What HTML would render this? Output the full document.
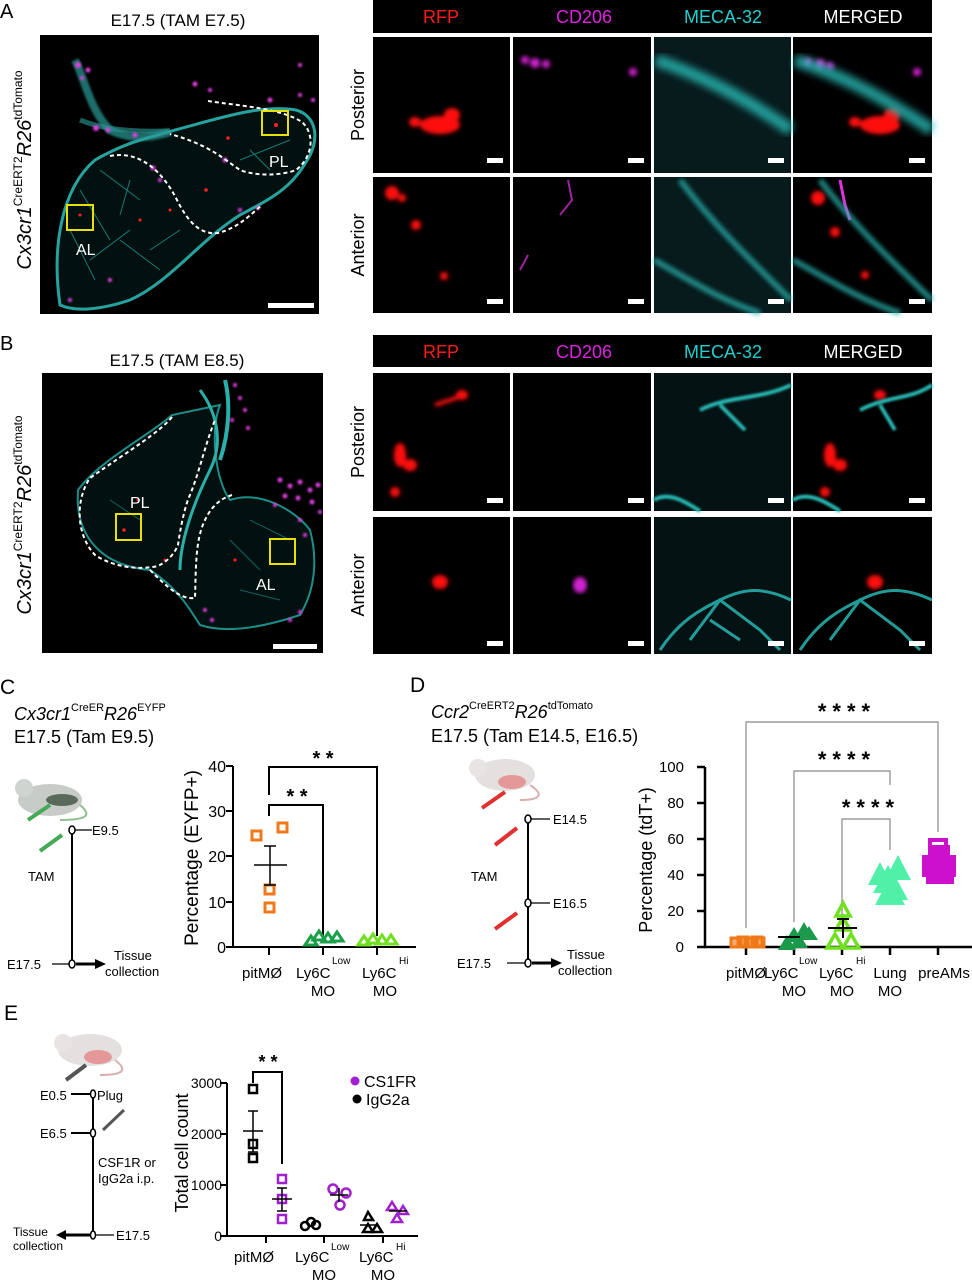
<!DOCTYPE html>
<html><head><meta charset="utf-8"><style>
html,body{margin:0;padding:0;background:#fff}
svg{display:block}
text{font-family:"Liberation Sans",sans-serif}
</style></head><body>
<svg width="972" height="1280" viewBox="0 0 972 1280" xmlns="http://www.w3.org/2000/svg">
<defs>
<filter id="b2"><feGaussianBlur stdDeviation="2"/></filter>
<filter id="b1"><feGaussianBlur stdDeviation="1"/></filter>
<filter id="b4"><feGaussianBlur stdDeviation="4"/></filter>
</defs>

<!-- ============ PANEL A ============ -->
<text x="0" y="18" font-size="20">A</text>
<text x="178" y="26" font-size="17" text-anchor="middle">E17.5 (TAM E7.5)</text>
<text transform="translate(31,170) rotate(-90)" font-size="20" text-anchor="middle" font-style="italic">Cx3cr1<tspan font-size="12" dy="-9" font-style="normal">CreERT2</tspan><tspan dy="9">R26</tspan><tspan font-size="12" dy="-9" font-style="normal">tdTomato</tspan></text>
<rect x="40" y="35" width="279" height="279" fill="#000"/>
<g>
<path d="M60,305 C52,250 60,190 95,160 C130,140 150,138 175,130 C220,118 262,104 296,110 C318,116 320,142 306,162 C290,190 268,200 240,215 C200,240 170,282 130,300 C100,310 75,312 60,305 Z" fill="#031312" stroke="#2bb5b0" stroke-width="3" opacity="0.9"/>
<path d="M75,60 C85,80 90,110 110,130 C130,140 150,138 170,132" fill="none" stroke="#2a9c98" stroke-width="8" opacity="0.7" filter="url(#b1)"/>
<path d="M80,120 C100,128 120,132 170,131" fill="none" stroke="#2a9c98" stroke-width="5" opacity="0.6"/>
<g fill="#e040e0" filter="url(#b1)">
<circle cx="78" cy="65" r="3"/><circle cx="88" cy="70" r="2.5"/><circle cx="82" cy="78" r="2"/><circle cx="96" cy="128" r="3"/><circle cx="108" cy="130" r="2.5"/><circle cx="135" cy="135" r="2.5"/><circle cx="195" cy="84" r="2.5"/><circle cx="210" cy="90" r="2"/><circle cx="270" cy="100" r="2.5"/><circle cx="300" cy="95" r="2"/><circle cx="313" cy="100" r="2"/><circle cx="153" cy="168" r="2.5"/><circle cx="160" cy="180" r="2"/><circle cx="240" cy="210" r="2"/><circle cx="258" cy="208" r="2"/><circle cx="225" cy="160" r="2.5"/><circle cx="300" cy="65" r="2"/><circle cx="110" cy="280" r="2"/><circle cx="70" cy="300" r="2"/>
</g>
<g fill="#ff2020"><circle cx="276" cy="125" r="2"/><circle cx="228" cy="138" r="1.8"/><circle cx="206" cy="190" r="1.8"/><circle cx="140" cy="220" r="1.5"/><circle cx="80" cy="215" r="1.5"/><circle cx="170" cy="210" r="1.5"/></g>
<g stroke="#20a8a0" stroke-width="1" fill="none" opacity="0.7">
<path d="M80,190 L110,240 M100,170 L140,200 M120,240 L160,270 M90,260 L130,230 M250,150 L270,170 M240,160 L290,140 M150,250 L180,230 M70,230 L95,280 M130,180 L120,215"/>
</g>
<path d="M110,156 C140,150 163,172 177,200 C188,222 200,235 218,233 C238,228 250,215 262,205" fill="none" stroke="#fff" stroke-width="2" stroke-dasharray="4,3"/>
<path d="M208,101 C240,106 280,108 302,122 C316,135 312,158 296,170 C280,176 255,176 240,170 C225,160 210,145 170,134" fill="none" stroke="#fff" stroke-width="2" stroke-dasharray="4,3"/>
<rect x="262" y="111" width="26" height="24" fill="none" stroke="#e8e000" stroke-width="2"/>
<rect x="67" y="205" width="26" height="25" fill="none" stroke="#e8e000" stroke-width="2"/>
<text x="269" y="167" font-size="16" fill="#fff">PL</text>
<text x="76" y="255" font-size="16" fill="#fff">AL</text>
<rect x="268" y="303" width="46" height="5" fill="#fff"/>
</g>

<!-- header A -->
<rect x="373" y="0" width="559" height="33" fill="#000"/>
<text x="441" y="23" font-size="18" fill="#ff1a1a" text-anchor="middle">RFP</text>
<text x="584" y="23" font-size="18" fill="#e020e0" text-anchor="middle">CD206</text>
<text x="723" y="23" font-size="18" fill="#20d0d0" text-anchor="middle">MECA-32</text>
<text x="863" y="23" font-size="18" fill="#fff" text-anchor="middle">MERGED</text>
<text transform="translate(364,105) rotate(-90)" font-size="18" text-anchor="middle">Posterior</text>
<text transform="translate(364,245) rotate(-90)" font-size="18" text-anchor="middle">Anterior</text>
<g fill="#000">
<rect x="373" y="37" width="137" height="136"/><rect x="513" y="37" width="138" height="136"/><rect x="654" y="37" width="137" height="136"/><rect x="793" y="37" width="139" height="136"/>
<rect x="373" y="177" width="137" height="136"/><rect x="513" y="177" width="138" height="136"/><rect x="654" y="177" width="137" height="136"/><rect x="793" y="177" width="139" height="136"/>
</g>
<g fill="#071a1c"><rect x="654" y="37" width="137" height="136"/><rect x="654" y="177" width="137" height="136"/></g>
<g filter="url(#b2)" fill="#ff1010">
<ellipse cx="440" cy="125" rx="20" ry="9"/><ellipse cx="452" cy="115" rx="8" ry="7"/><ellipse cx="415" cy="122" rx="6" ry="5"/>
<ellipse cx="880" cy="125" rx="20" ry="9"/><ellipse cx="892" cy="115" rx="8" ry="7"/><ellipse cx="855" cy="122" rx="6" ry="5"/>
</g>
<g filter="url(#b2)" fill="#d020d0">
<circle cx="525" cy="60" r="4"/><circle cx="535" cy="63" r="5"/><circle cx="546" cy="64" r="4"/><circle cx="633" cy="72" r="4"/>
<circle cx="808" cy="62" r="4"/><circle cx="820" cy="64" r="5"/><circle cx="830" cy="66" r="4"/><circle cx="917" cy="72" r="4"/>
</g>
<path d="M656,60 C700,75 740,95 791,130" stroke="#2cc0bc" stroke-width="12" fill="none" filter="url(#b4)" opacity="0.8"/>
<path d="M795,60 C840,75 880,95 932,130" stroke="#2cc0bc" stroke-width="12" fill="none" filter="url(#b4)" opacity="0.8"/>
<g filter="url(#b2)" fill="#ff1010">
<circle cx="392" cy="193" r="7"/><circle cx="402" cy="198" r="4"/><circle cx="416" cy="225" r="5"/><circle cx="444" cy="276" r="4"/>
<circle cx="818" cy="198" r="7"/><circle cx="835" cy="232" r="5"/><circle cx="865" cy="275" r="4"/>
</g>
<path d="M568,180 L572,200 L560,215 M520,270 L528,255" stroke="#a020a0" stroke-width="2" fill="none"/>
<path d="M840,180 L845,205 L850,220" stroke="#e030e0" stroke-width="3" fill="none"/>
<path d="M680,180 C710,220 740,250 791,300 M654,260 C690,280 720,300 760,313" stroke="#2cb8b4" stroke-width="6" fill="none" filter="url(#b2)" opacity="0.7"/>
<path d="M820,180 C850,220 880,250 932,300 M793,260 C830,280 860,300 900,313" stroke="#2cb8b4" stroke-width="6" fill="none" filter="url(#b2)" opacity="0.7"/>
<g fill="#fff">
<rect x="487" y="158" width="16" height="5"/><rect x="628" y="158" width="16" height="5"/><rect x="768" y="158" width="16" height="5"/><rect x="909" y="158" width="16" height="5"/>
<rect x="487" y="299" width="16" height="5"/><rect x="628" y="299" width="16" height="5"/><rect x="768" y="299" width="16" height="5"/><rect x="909" y="299" width="16" height="5"/>
</g>

<!-- ============ PANEL B ============ -->
<text x="0" y="350" font-size="20">B</text>
<text x="177" y="366" font-size="17" text-anchor="middle">E17.5 (TAM E8.5)</text>
<text transform="translate(31,515) rotate(-90)" font-size="20" text-anchor="middle" font-style="italic">Cx3cr1<tspan font-size="12" dy="-9" font-style="normal">CreERT2</tspan><tspan dy="9">R26</tspan><tspan font-size="12" dy="-9" font-style="normal">tdTomato</tspan></text>
<rect x="42" y="373" width="281" height="280" fill="#000"/>
<g>
<path d="M172,415 C150,435 100,460 78,490 C75,530 95,565 150,570 C180,590 190,610 200,625 C230,635 270,625 300,615 C315,590 318,560 310,530 C295,510 260,490 230,500 C215,480 210,430 220,405 Z" fill="#031211" stroke="#209e98" stroke-width="2" opacity="0.9"/>
<path d="M200,390 C215,410 225,440 210,470 C195,500 180,540 180,570" stroke="#2ab0aa" stroke-width="3" fill="none"/>
<path d="M225,380 C230,400 230,430 220,460" stroke="#2ab0aa" stroke-width="4" fill="none"/>
<g stroke="#178a84" stroke-width="1" fill="none" opacity="0.7"><path d="M230,540 L260,570 M240,590 L280,600 M250,520 L290,540 M110,500 L140,520"/></g>
<g fill="#e040e0" filter="url(#b1)">
<circle cx="235" cy="385" r="2"/><circle cx="240" cy="398" r="2"/><circle cx="245" cy="410" r="2"/><circle cx="232" cy="420" r="2"/><circle cx="248" cy="428" r="2"/>
<circle cx="280" cy="480" r="2.5"/><circle cx="290" cy="486" r="2.5"/><circle cx="300" cy="482" r="2.5"/><circle cx="310" cy="490" r="2.5"/><circle cx="318" cy="485" r="2.5"/><circle cx="285" cy="496" r="2.5"/><circle cx="298" cy="498" r="2.5"/><circle cx="312" cy="502" r="2.5"/><circle cx="320" cy="512" r="2"/><circle cx="275" cy="505" r="2"/><circle cx="300" cy="520" r="2"/><circle cx="305" cy="535" r="2"/>
<circle cx="205" cy="610" r="2"/><circle cx="212" cy="620" r="2"/><circle cx="290" cy="620" r="2"/><circle cx="300" cy="612" r="2"/>
</g>
<g fill="#ff2020"><circle cx="124" cy="530" r="1.8"/><circle cx="138" cy="500" r="1.5"/><circle cx="165" cy="560" r="1.5"/><circle cx="235" cy="560" r="1.5"/></g>
<path d="M172,417 C160,432 130,450 90,478 C75,500 76,535 95,555 C115,568 140,570 158,566 C170,560 175,552 178,545 C180,530 185,505 190,495 C200,470 205,445 215,420" fill="none" stroke="#fff" stroke-width="2" stroke-dasharray="4,3"/>
<path d="M150,570 C165,585 180,600 195,598 C196,570 195,540 205,520 C212,505 222,498 232,495" fill="none" stroke="#fff" stroke-width="2" stroke-dasharray="4,3"/>
<rect x="116" y="514" width="25" height="26" fill="none" stroke="#e8e000" stroke-width="2"/>
<rect x="270" y="539" width="25" height="25" fill="none" stroke="#e8e000" stroke-width="2"/>
<text x="130" y="508" font-size="16" fill="#fff">PL</text>
<text x="256" y="590" font-size="16" fill="#fff">AL</text>
<rect x="273" y="644" width="44" height="5" fill="#fff"/>
</g>
<rect x="373" y="335" width="559" height="32" fill="#000"/>
<text x="441" y="358" font-size="18" fill="#ff1a1a" text-anchor="middle">RFP</text>
<text x="584" y="358" font-size="18" fill="#e020e0" text-anchor="middle">CD206</text>
<text x="723" y="358" font-size="18" fill="#20d0d0" text-anchor="middle">MECA-32</text>
<text x="863" y="358" font-size="18" fill="#fff" text-anchor="middle">MERGED</text>
<text transform="translate(364,442) rotate(-90)" font-size="18" text-anchor="middle">Posterior</text>
<text transform="translate(364,585) rotate(-90)" font-size="18" text-anchor="middle">Anterior</text>
<g fill="#000">
<rect x="373" y="373" width="137" height="138"/><rect x="513" y="373" width="138" height="138"/><rect x="654" y="373" width="137" height="138"/><rect x="793" y="373" width="139" height="138"/>
<rect x="373" y="517" width="137" height="137"/><rect x="513" y="517" width="138" height="137"/><rect x="654" y="517" width="137" height="137"/><rect x="793" y="517" width="139" height="137"/>
</g>
<g fill="#051214"><rect x="654" y="373" width="137" height="138"/><rect x="654" y="517" width="137" height="137"/></g>
<g filter="url(#b2)" fill="#ff1010">
<ellipse cx="400" cy="455" rx="6" ry="12"/><ellipse cx="410" cy="465" rx="7" ry="6"/><ellipse cx="462" cy="395" rx="6" ry="5"/><path d="M435,405 L465,395" stroke="#ff1010" stroke-width="4"/><circle cx="395" cy="492" r="5"/>
<ellipse cx="830" cy="455" rx="6" ry="12"/><ellipse cx="840" cy="465" rx="7" ry="6"/><ellipse cx="880" cy="395" rx="6" ry="5"/><circle cx="825" cy="492" r="5"/>
<ellipse cx="440" cy="582" rx="8" ry="7"/><ellipse cx="875" cy="582" rx="8" ry="7"/>
</g>
<g filter="url(#b2)" fill="#d020d0"><ellipse cx="580" cy="585" rx="7" ry="8"/></g>
<path d="M700,410 C730,395 760,400 791,385 M720,405 L745,430 M654,500 C670,490 690,505 700,511" stroke="#28b6b0" stroke-width="4" fill="none" filter="url(#b1)"/>
<path d="M860,410 C890,395 910,400 932,385 M880,405 L895,430 M793,500 C810,490 830,505 840,511" stroke="#28b6b0" stroke-width="4" fill="none" filter="url(#b1)"/>
<path d="M660,650 C680,620 700,610 720,600 C740,590 760,585 791,600 M690,640 L720,600 L760,630 L780,650 M710,620 L740,640" stroke="#28b6b0" stroke-width="3" fill="none" opacity="0.85"/>
<path d="M800,650 C820,620 840,610 860,600 C880,590 900,585 932,600 M830,640 L860,600 L900,630 L920,650" stroke="#28b6b0" stroke-width="3" fill="none" opacity="0.85"/>
<g fill="#fff">
<rect x="487" y="498" width="16" height="5"/><rect x="628" y="498" width="16" height="5"/><rect x="768" y="498" width="16" height="5"/><rect x="909" y="498" width="16" height="5"/>
<rect x="487" y="641" width="16" height="5"/><rect x="628" y="641" width="16" height="5"/><rect x="768" y="641" width="16" height="5"/><rect x="909" y="641" width="16" height="5"/>
</g>

<!-- ============ PANEL C ============ -->
<text x="0" y="694" font-size="21">C</text>
<text x="14" y="720" font-size="18" font-style="italic">Cx3cr1<tspan font-size="11" dy="-9" font-style="normal">CreER</tspan><tspan dy="9">R26</tspan><tspan font-size="11" dy="-9" font-style="normal">EYFP</tspan></text>
<text x="14" y="743" font-size="18">E17.5 (Tam E9.5)</text>
<ellipse cx="50" cy="800" rx="32" ry="16" fill="#c8ccc8"/><circle cx="24" cy="788" r="9" fill="#d0d4d0"/>
<ellipse cx="62" cy="800" rx="16" ry="6" fill="#5a6a5a"/>
<path d="M80,805 C92,815 88,820 60,820" stroke="#8ec08e" stroke-width="2" fill="none"/>
<path d="M28,820 L50,805" stroke="#44aa55" stroke-width="4"/>
<path d="M40,851 L62,835" stroke="#44aa55" stroke-width="4"/>
<text x="28" y="881" font-size="13">TAM</text>
<line x1="72" y1="830" x2="72" y2="964" stroke="#000" stroke-width="2"/>
<ellipse cx="72" cy="830" rx="3" ry="4" fill="#fff" stroke="#000" stroke-width="1.5"/>
<ellipse cx="72" cy="964" rx="3" ry="4" fill="#fff" stroke="#000" stroke-width="1.5"/>
<line x1="75" y1="830" x2="92" y2="830" stroke="#000" stroke-width="1.2"/>
<text x="92" y="835" font-size="13">E9.5</text>
<line x1="52" y1="964" x2="69" y2="964" stroke="#000" stroke-width="1.2"/>
<text x="7" y="969" font-size="13">E17.5</text>
<line x1="76" y1="964" x2="97" y2="964" stroke="#000" stroke-width="3"/><path d="M95,959 L106,964 L95,969 Z"/>
<text x="114" y="960" font-size="13">Tissue</text><text x="105" y="976" font-size="13">collection</text>
<text transform="translate(198,858) rotate(-90)" font-size="19" text-anchor="middle">Percentage (EYFP+)</text>
<g stroke="#000" stroke-width="2" fill="none">
<line x1="233" y1="766" x2="233" y2="948"/><line x1="232" y1="947" x2="416" y2="947"/>
<line x1="226" y1="766" x2="233" y2="766"/><line x1="226" y1="811" x2="233" y2="811"/><line x1="226" y1="856" x2="233" y2="856"/><line x1="226" y1="902" x2="233" y2="902"/><line x1="226" y1="947" x2="233" y2="947"/>
<line x1="269" y1="947" x2="269" y2="955"/><line x1="323" y1="947" x2="323" y2="955"/><line x1="377" y1="947" x2="377" y2="955"/>
<path d="M269,795 V767 H377 V936"/><path d="M269,816 V805 H323 V940"/>
</g>
<g font-size="16" text-anchor="end"><text x="226" y="772">40</text><text x="226" y="817">30</text><text x="226" y="862">20</text><text x="226" y="908">10</text><text x="226" y="953">0</text></g>
<text x="323" y="765" font-size="20" font-weight="bold" text-anchor="middle">* *</text>
<text x="297" y="803" font-size="20" font-weight="bold" text-anchor="middle">* *</text>
<g fill="none" stroke="#f07818" stroke-width="3">
<rect x="252" y="831" width="9" height="9"/><rect x="278" y="823" width="9" height="9"/><rect x="265" y="885" width="9" height="9"/><rect x="265" y="903" width="9" height="9"/>
</g>
<g stroke="#000" stroke-width="1.5"><line x1="254" y1="865" x2="287" y2="865"/><line x1="270" y1="846" x2="270" y2="885"/><line x1="264" y1="846" x2="276" y2="846"/><line x1="264" y1="885" x2="276" y2="885"/></g>
<g fill="none" stroke="#18a048" stroke-width="3"><path d="M305,945 L311,936 L317,945 Z"/><path d="M313,940 L319,931 L325,940 Z"/><path d="M322,942 L328,933 L334,942 Z"/><path d="M331,941 L337,932 L343,941 Z"/></g>
<g fill="none" stroke="#70e020" stroke-width="3"><path d="M358,945 L364,936 L370,945 Z"/><path d="M367,943 L373,934 L379,943 Z"/><path d="M376,944 L382,935 L388,944 Z"/><path d="M385,944 L391,935 L397,944 Z"/></g>
<g font-size="15"><text x="262" y="978" text-anchor="middle">pitMØ</text>
<text x="296" y="978">Ly6C</text><text x="332" y="964" font-size="10">Low</text><text x="323" y="996" text-anchor="middle">MO</text>
<text x="362" y="978">Ly6C</text><text x="399" y="964" font-size="10">Hi</text><text x="385" y="996" text-anchor="middle">MO</text></g>

<!-- ============ PANEL D ============ -->
<text x="410" y="692" font-size="21">D</text>
<text x="431" y="718" font-size="18" font-style="italic">Ccr2<tspan font-size="11" dy="-9" font-style="normal">CreERT2</tspan><tspan dy="9">R26</tspan><tspan font-size="11" dy="-9" font-style="normal">tdTomato</tspan></text>
<text x="431" y="742" font-size="18">E17.5 (Tam E14.5, E16.5)</text>
<ellipse cx="505" cy="775" rx="30" ry="16" fill="#e4e0e0"/><circle cx="478" cy="768" r="9" fill="#e8e4e4"/>
<ellipse cx="512" cy="782" rx="14" ry="7" fill="#e49898"/>
<path d="M530,785 C545,795 540,800 520,800" stroke="#d8b0b0" stroke-width="2" fill="none"/>
<path d="M482,808 L505,792" stroke="#e03030" stroke-width="4"/>
<path d="M495,845 L517,828" stroke="#e03030" stroke-width="4"/>
<path d="M495,929 L517,913" stroke="#e03030" stroke-width="4"/>
<text x="471" y="881" font-size="13">TAM</text>
<line x1="528" y1="819" x2="528" y2="963" stroke="#000" stroke-width="2"/>
<ellipse cx="528" cy="819" rx="3" ry="4" fill="#fff" stroke="#000" stroke-width="1.5"/><ellipse cx="528" cy="903" rx="3" ry="4" fill="#fff" stroke="#000" stroke-width="1.5"/><ellipse cx="528" cy="963" rx="3" ry="4" fill="#fff" stroke="#000" stroke-width="1.5"/>
<line x1="531" y1="819" x2="550" y2="819" stroke="#000" stroke-width="1.2"/><text x="553" y="824" font-size="13">E14.5</text>
<line x1="531" y1="903" x2="550" y2="903" stroke="#000" stroke-width="1.2"/><text x="553" y="908" font-size="13">E16.5</text>
<line x1="507" y1="963" x2="525" y2="963" stroke="#000" stroke-width="1.2"/><text x="457" y="968" font-size="13">E17.5</text>
<line x1="532" y1="963" x2="553" y2="963" stroke="#000" stroke-width="3"/><path d="M551,958 L562,963 L551,968 Z"/>
<text x="567" y="959" font-size="13">Tissue</text><text x="558" y="975" font-size="13">collection</text>
<text transform="translate(652,860) rotate(-90)" font-size="18" text-anchor="middle">Percentage (tdT+)</text>
<g stroke="#000" stroke-width="2.5" fill="none">
<line x1="705" y1="767" x2="705" y2="948"/><line x1="704" y1="947" x2="972" y2="947"/>
<line x1="697" y1="767" x2="705" y2="767"/><line x1="697" y1="803" x2="705" y2="803"/><line x1="697" y1="839" x2="705" y2="839"/><line x1="697" y1="875" x2="705" y2="875"/><line x1="697" y1="911" x2="705" y2="911"/><line x1="697" y1="947" x2="705" y2="947"/>
<line x1="746" y1="947" x2="746" y2="955"/><line x1="794" y1="947" x2="794" y2="955"/><line x1="842" y1="947" x2="842" y2="955"/><line x1="890" y1="947" x2="890" y2="955"/><line x1="938" y1="947" x2="938" y2="955"/>
</g>
<g font-size="15" text-anchor="end"><text x="684" y="772">100</text><text x="684" y="808">80</text><text x="684" y="844">60</text><text x="684" y="880">40</text><text x="684" y="916">20</text><text x="684" y="952">0</text></g>
<g stroke="#888" stroke-width="1.2" fill="none">
<path d="M746,928 V722 H938 V832"/><path d="M794,922 V771 H890 V785"/><path d="M842,925 V819 H890 V850"/>
</g>
<g font-size="22" text-anchor="middle" font-weight="bold"><text x="847" y="719" letter-spacing="6">****</text><text x="847" y="767" letter-spacing="6">****</text><text x="871" y="815" letter-spacing="6">****</text></g>
<g fill="none" stroke="#f07818" stroke-width="3"><rect x="731" y="938" width="10" height="9"/><rect x="738" y="937" width="10" height="9"/><rect x="745" y="938" width="10" height="9"/><rect x="752" y="937" width="10" height="9"/><rect x="757" y="938" width="7" height="9"/></g>
<rect x="731" y="937" width="33" height="11" fill="#f07818" opacity="0.6"/>
<g fill="#1a9a4a"><path d="M778,950 L787,935 L796,950 Z"/><path d="M785,942 L794,927 L803,942 Z"/><path d="M795,938 L804,922 L813,938 Z"/><path d="M790,948 L799,933 L808,948 Z"/><path d="M800,940 L809,926 L818,940 Z"/></g>
<g stroke="#000" stroke-width="2"><line x1="778" y1="937" x2="800" y2="937"/></g>
<g fill="none" stroke="#70e020" stroke-width="3.5"><path d="M827,948 L835,934 L843,948 Z"/><path d="M836,916 L843,903 L850,916 Z"/><path d="M836,930 L843,917 L850,930 Z"/><path d="M843,948 L851,934 L859,948 Z"/></g>
<g stroke="#000" stroke-width="2"><line x1="828" y1="928" x2="857" y2="928"/><line x1="843" y1="919" x2="843" y2="938"/><line x1="837" y1="919" x2="849" y2="919"/></g>
<g fill="#50f0a8"><path d="M873,893 L888,865 L903,893 Z"/><path d="M875,905 L890,877 L905,905 Z"/><path d="M885,880 L898,855 L911,880 Z"/><path d="M868,885 L880,862 L892,885 Z"/><path d="M878,900 L893,872 L908,900 Z"/></g>
<g fill="#cc10cc"><rect x="922" y="855" width="34" height="22"/><rect x="928" y="845" width="22" height="12"/><rect x="926" y="872" width="28" height="12"/><rect x="930" y="840" width="16" height="10" fill="none" stroke="#cc10cc" stroke-width="4"/></g>
<g font-size="15"><text x="746" y="978" text-anchor="middle">pitMØ</text>
<text x="764" y="978">Ly6C</text><text x="799" y="964" font-size="10">Low</text><text x="794" y="996" text-anchor="middle">MO</text>
<text x="819" y="978">Ly6C</text><text x="856" y="964" font-size="10">Hi</text><text x="842" y="996" text-anchor="middle">MO</text>
<text x="890" y="978" text-anchor="middle">Lung</text><text x="890" y="996" text-anchor="middle">MO</text>
<text x="944" y="978" text-anchor="middle">preAMs</text></g>

<!-- ============ PANEL E ============ -->
<text x="4" y="1020" font-size="21">E</text>
<ellipse cx="90" cy="1050" rx="32" ry="16" fill="#e4e0e0"/><circle cx="63" cy="1043" r="9" fill="#e8e4e4"/>
<ellipse cx="98" cy="1057" rx="14" ry="7" fill="#e49898"/>
<path d="M115,1060 C128,1070 124,1075 100,1075" stroke="#d8b0b0" stroke-width="2" fill="none"/>
<path d="M66,1080 L86,1065" stroke="#555" stroke-width="4"/>
<path d="M103,1130 L124,1110" stroke="#555" stroke-width="3"/>
<line x1="93" y1="1094" x2="93" y2="1236" stroke="#000" stroke-width="2"/>
<ellipse cx="93" cy="1094" rx="2.5" ry="4" fill="#fff" stroke="#000" stroke-width="1.5"/><ellipse cx="93" cy="1133" rx="2.5" ry="4" fill="#fff" stroke="#000" stroke-width="1.5"/><ellipse cx="93" cy="1235" rx="2.5" ry="4" fill="#fff" stroke="#000" stroke-width="1.5"/>
<line x1="71" y1="1094" x2="90" y2="1094" stroke="#000" stroke-width="2"/><text x="40" y="1100" font-size="13">E0.5</text><text x="97" y="1100" font-size="13">Plug</text>
<line x1="71" y1="1133" x2="90" y2="1133" stroke="#000" stroke-width="2"/><text x="40" y="1138" font-size="13">E6.5</text>
<text x="98" y="1167" font-size="13">CSF1R or</text><text x="98" y="1183" font-size="13">IgG2a i.p.</text>
<line x1="96" y1="1235" x2="114" y2="1235" stroke="#000" stroke-width="1.2"/><text x="116" y="1240" font-size="13">E17.5</text>
<line x1="64" y1="1235" x2="90" y2="1235" stroke="#000" stroke-width="3"/><path d="M66,1230 L56,1235 L66,1240 Z"/>
<text x="13" y="1236" font-size="12">Tissue</text><text x="13" y="1250" font-size="12">collection</text>
<text transform="translate(188,1153) rotate(-90)" font-size="18" text-anchor="middle">Total cell count</text>
<g stroke="#000" stroke-width="2" fill="none">
<line x1="227" y1="1083" x2="227" y2="1237"/><line x1="226" y1="1236" x2="418" y2="1236"/>
<line x1="220" y1="1083" x2="227" y2="1083"/><line x1="220" y1="1134" x2="227" y2="1134"/><line x1="220" y1="1185" x2="227" y2="1185"/><line x1="220" y1="1236" x2="227" y2="1236"/>
<line x1="266" y1="1236" x2="266" y2="1243"/><line x1="324" y1="1236" x2="324" y2="1243"/><line x1="383" y1="1236" x2="383" y2="1243"/>
<path d="M253,1083 V1072 H282 V1164"/>
</g>
<g font-size="14" text-anchor="end"><text x="222" y="1088">3000</text><text x="222" y="1139">2000</text><text x="222" y="1190">1000</text><text x="222" y="1241">0</text></g>
<text x="268" y="1068" font-size="18" font-weight="bold" text-anchor="middle">* *</text>
<g fill="none" stroke="#000" stroke-width="2.5"><rect x="249" y="1085" width="8" height="8"/><rect x="249" y="1140" width="8" height="8"/><rect x="249" y="1154" width="8" height="8"/></g>
<g stroke="#000" stroke-width="1.5"><line x1="243" y1="1131" x2="263" y2="1131"/><line x1="253" y1="1111" x2="253" y2="1152"/><line x1="248" y1="1111" x2="258" y2="1111"/><line x1="248" y1="1152" x2="258" y2="1152"/></g>
<g fill="none" stroke="#a020d0" stroke-width="2.5"><rect x="278" y="1175" width="8" height="8"/><rect x="278" y="1195" width="8" height="8"/><rect x="278" y="1215" width="8" height="8"/></g>
<g stroke="#000" stroke-width="1.5"><line x1="272" y1="1199" x2="292" y2="1199"/><line x1="282" y1="1188" x2="282" y2="1211"/><line x1="277" y1="1188" x2="287" y2="1188"/><line x1="277" y1="1211" x2="287" y2="1211"/></g>
<g fill="none" stroke="#000" stroke-width="2.5"><circle cx="305" cy="1226" r="4"/><circle cx="311" cy="1222" r="4"/><circle cx="316" cy="1225" r="4"/></g>
<g fill="none" stroke="#a020d0" stroke-width="2.5"><circle cx="333" cy="1189" r="4.5"/><circle cx="346" cy="1193" r="4.5"/><circle cx="340" cy="1205" r="4.5"/></g>
<g stroke="#000" stroke-width="1.5"><line x1="330" y1="1195" x2="348" y2="1195"/><line x1="339" y1="1188" x2="339" y2="1202"/></g>
<g fill="none" stroke="#000" stroke-width="2.5"><path d="M363,1232 L368,1224 L373,1232 Z"/><path d="M372,1232 L377,1224 L382,1232 Z"/><path d="M364,1220 L368,1212 L373,1220 Z"/></g>
<line x1="360" y1="1225" x2="378" y2="1225" stroke="#000" stroke-width="1.5"/>
<g fill="none" stroke="#a020d0" stroke-width="2.5"><path d="M387,1210 L392,1202 L397,1210 Z"/><path d="M398,1214 L403,1206 L408,1214 Z"/><path d="M392,1222 L397,1214 L402,1222 Z"/></g>
<line x1="389" y1="1211" x2="407" y2="1211" stroke="#000" stroke-width="1.5"/>
<circle cx="355" cy="1081" r="4.5" fill="#a020d0"/><text x="364" y="1087" font-size="16">CS1FR</text>
<circle cx="357" cy="1099" r="4.5" fill="#000"/><text x="366" y="1105" font-size="16">IgG2a</text>
<g font-size="15"><text x="254" y="1262" text-anchor="middle">pitMØ</text>
<text x="295" y="1262">Ly6C</text><text x="331" y="1250" font-size="10">Low</text><text x="324" y="1280" text-anchor="middle">MO</text>
<text x="359" y="1262">Ly6C</text><text x="396" y="1250" font-size="10">Hi</text><text x="383" y="1280" text-anchor="middle">MO</text></g>
</svg>
</body></html>
